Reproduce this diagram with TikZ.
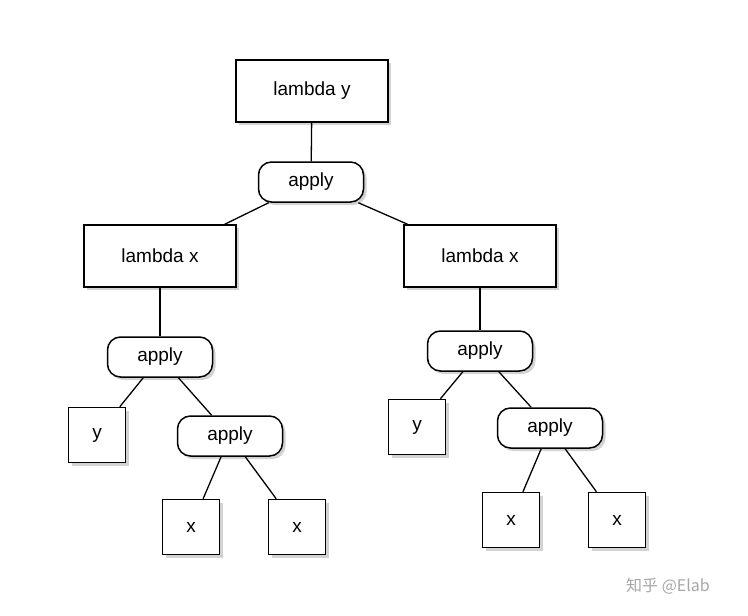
\documentclass[tikz,border=0pt]{standalone}
\usepackage{fontspec}
\setmainfont{Liberation Sans}
\newfontfamily\cjk{Noto Sans CJK SC}
\usetikzlibrary{shadows}
\begin{document}
\begin{tikzpicture}[x=1pt,y=-1pt,
  base/.style={draw=black,line width=1.5pt,fill=white,font=\fontsize{19}{22}\selectfont,
    drop shadow={shadow xshift=3pt,shadow yshift=-3pt,opacity=0.35}},
  lam/.style={base,minimum width=152pt,minimum height=62pt},
  app/.style={base,rounded corners=13pt,minimum width=105pt,minimum height=40pt},
  leaf/.style={base,minimum width=57pt,minimum height=55pt},
  edge/.style={line width=1.3pt}]
\useasboundingbox (0,0) rectangle (748,616);
\node[lam] (ly) at (312,91) {lambda y};
\node[app] (a0) at (311,182) {apply};
\node[lam] (lx1) at (160,256) {lambda x};
\node[lam] (lx2) at (480,256) {lambda x};
\node[app] (a1) at (160,357) {apply};
\node[leaf] (y1) at (97,435) {y};
\node[app] (a2) at (230,436) {apply};
\node[leaf] (x1) at (191,527) {x};
\node[leaf] (x2) at (297,527) {x};
\node[app] (a3) at (480,351) {apply};
\node[leaf] (y2) at (417,427) {y};
\node[app] (a4) at (550,428) {apply};
\node[leaf] (x3) at (511,520) {x};
\node[leaf] (x4) at (617,520) {x};
\draw[edge] (ly) -- (a0);
\draw[edge] (a0) -- (lx1);
\draw[edge] (a0) -- (lx2);
\draw[edge] (lx1) -- (a1);
\draw[edge] (lx2) -- (a3);
\draw[edge] (a1) -- (y1);
\draw[edge] (a1) -- (a2);
\draw[edge] (a2) -- (x1);
\draw[edge] (a2) -- (x2);
\draw[edge] (a3) -- (y2);
\draw[edge] (a3) -- (a4);
\draw[edge] (a4) -- (x3);
\draw[edge] (a4) -- (x4);
\node[text=gray!70,font=\cjk\fontsize{16}{19}\selectfont] (wm) at (668,586) {知乎 @Elab};
\end{tikzpicture}
\end{document}
